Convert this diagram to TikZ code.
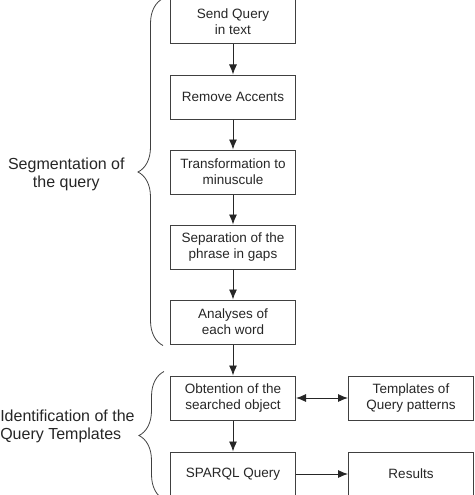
\documentclass[tikz,border=0pt]{standalone}
\usepackage{fontspec}
\setmainfont{Liberation Sans}
\usetikzlibrary{positioning,arrows.meta,decorations.pathreplacing}
\tikzset{line/.style={draw, line width=0.9pt, black!85, -{Latex[length=10pt,width=8pt]}}}
\tikzset{both/.style={draw, line width=0.9pt, black!85, {Latex[length=10pt,width=8pt]}-{Latex[length=10pt,width=8pt]}}}

\begin{document}
\begin{tikzpicture}[x=1pt,y=1pt]
\tikzstyle{block} = [rectangle, draw=black!75, line width=1pt, text=black!85, align=center, minimum width=125pt, minimum height=44pt, inner sep=0pt, font=\fontsize{13.5}{16}\selectfont]
\tikzstyle{curly} = [draw=black!75, line width=0.8pt, decorate, decoration={brace, amplitude=25pt}]
\tikzstyle{side} = [text=black!85, inner sep=0pt, font=\fontsize{16}{18}\selectfont]
\useasboundingbox (0,0) rectangle (474,-495);

% blocks
    % segmentation
    \node [block] (send) at (233,-22) {Send Query\\in text};
    \node [block, below=30pt of send] (accents) {Remove Accents};
    \node [block, below=30pt of accents] (minus) {Transformation to\\minuscule};
    \node [block, below=30pt of minus] (separ) {Separation of the\\phrase in gaps};
    \node [block, below=30pt of separ] (analys) {Analyses of\\each word};
    % templates
    \node [block, below=31pt of analys] (obtent) {Obtention of the\\searched object};
    \node [block, right=52pt of obtent] (templ) {Templates of\\Query patterns};
    \node [block, below=31pt of obtent] (sparql) {SPARQL Query};
    \node [block, right=52pt of sparql] (results) {Results};
% braces
    \draw [curly] ([xshift=-7pt,yshift=-1pt]analys.south west) -- ([xshift=-7pt,yshift=1pt]send.north west)
        node [side, midway, left=38pt, yshift=-2pt, align=center] (segtext) {Segmentation of\\the query};
    \draw [curly] ([xshift=-6pt,yshift=-3pt]sparql.south west) -- ([xshift=-6pt,yshift=4pt]obtent.north west)
        node [side, midway, left=29pt, yshift=9pt, align=left] (idtext) {Identification of the\\Query Templates};
% arrows
    \path [line] (send) -- (accents);
    \path [line] (accents) -- (minus);
    \path [line] (minus) -- (separ);
    \path [line] (separ) -- (analys);
    \path [line] (analys) -- (obtent);
    \path [both] (obtent) -- (templ);
    \path [line] (obtent) -- (sparql);
    \path [line] (sparql) -- (results);
\end{tikzpicture}
\end{document}
